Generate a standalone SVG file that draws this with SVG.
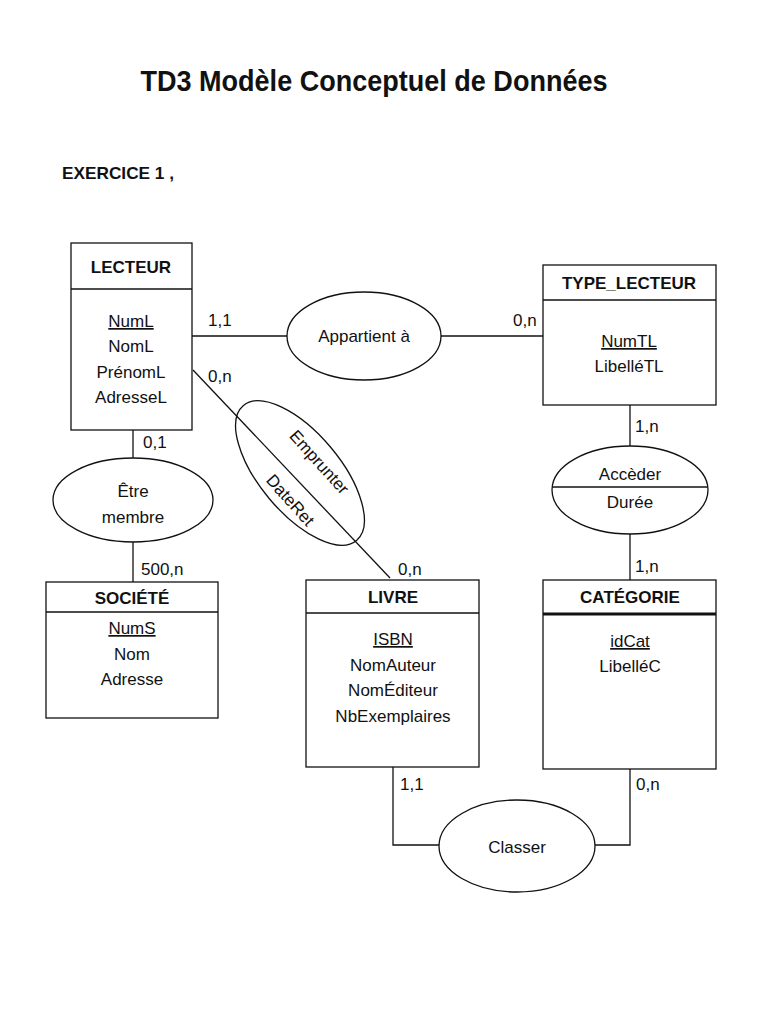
<svg xmlns="http://www.w3.org/2000/svg" width="768" height="1024" viewBox="0 0 768 1024">
<style>
text{font-family:"Liberation Sans",Arial,sans-serif;font-size:17px;fill:#111}
.b{font-weight:bold}
.m{text-anchor:middle}
rect,ellipse{fill:#fff;stroke:#111;stroke-width:1.3}
line,polyline{stroke:#111;stroke-width:1.3;fill:none}
</style>
<rect x="0" y="0" width="768" height="1024" style="fill:#fff;stroke:none"/>
<text x="374" y="91" class="b m" style="font-size:30px" textLength="467" lengthAdjust="spacingAndGlyphs">TD3 Modèle Conceptuel de Données</text>
<text x="62" y="179" class="b" textLength="112" lengthAdjust="spacingAndGlyphs">EXERCICE 1 ,</text>
<g id="connectors">
<line x1="192" y1="336" x2="287" y2="336"/>
<line x1="441" y1="336" x2="543" y2="336"/>
<line x1="193" y1="370" x2="390" y2="578"/>
<line x1="133" y1="430" x2="133" y2="458"/>
<line x1="133" y1="542" x2="133" y2="582"/>
<line x1="630" y1="405" x2="630" y2="446"/>
<line x1="630" y1="534" x2="630" y2="580"/>
<polyline points="393,767 393,845 439,845"/>
<polyline points="630,769 630,845 595,845"/>
<text x="208" y="326">1,1</text>
<text x="513" y="326">0,n</text>
<text x="208" y="382">0,n</text>
<text x="143" y="448">0,1</text>
<text x="141" y="575">500,n</text>
<text x="398" y="575">0,n</text>
<text x="635" y="432">1,n</text>
<text x="635" y="572">1,n</text>
<text x="400" y="790">1,1</text>
<text x="636" y="790">0,n</text>
</g>
<g id="lecteur">
<rect x="71" y="243" width="121" height="187"/>
<line x1="71" y1="289" x2="192" y2="289"/>
<text x="131" y="273" class="b m">LECTEUR</text>
<text x="131" y="327" class="m" text-decoration="underline">NumL</text>
<text x="131" y="352" class="m">NomL</text>
<text x="131" y="378" class="m">PrénomL</text>
<text x="131" y="403" class="m">AdresseL</text>
</g>
<g id="appartient">
<ellipse cx="364" cy="336" rx="77" ry="44"/>
<text x="364" y="342" class="m">Appartient à</text>
</g>
<g id="type_lecteur">
<rect x="543" y="265" width="173" height="140"/>
<line x1="543" y1="300" x2="716" y2="300"/>
<text x="629" y="289" class="b m">TYPE_LECTEUR</text>
<text x="629" y="347" class="m" text-decoration="underline">NumTL</text>
<text x="629" y="372" class="m">LibelléTL</text>
</g>
<g id="emprunter">
<ellipse cx="300" cy="473" rx="88" ry="40" transform="rotate(50 300 473)" style="fill:none"/>
<text x="315" y="466" class="m" transform="rotate(48 315 466)">Emprunter</text>
<text x="286" y="504" class="m" transform="rotate(48 286 504)">DateRet</text>
</g>
<g id="etre_membre">
<ellipse cx="133" cy="500" rx="80" ry="42"/>
<text x="133" y="497" class="m">Être</text>
<text x="133" y="523" class="m">membre</text>
</g>
<g id="accerder">
<ellipse cx="630" cy="490" rx="78" ry="44"/>
<line x1="552" y1="487" x2="708" y2="487"/>
<text x="630" y="480" class="m">Accèder</text>
<text x="630" y="508" class="m">Durée</text>
</g>
<g id="societe">
<rect x="46" y="582" width="172" height="136"/>
<line x1="46" y1="612" x2="218" y2="612"/>
<text x="132" y="604" class="b m">SOCIÉTÉ</text>
<text x="132" y="634" class="m" text-decoration="underline">NumS</text>
<text x="132" y="660" class="m">Nom</text>
<text x="132" y="685" class="m">Adresse</text>
</g>
<g id="livre">
<rect x="306" y="580" width="173" height="187"/>
<line x1="306" y1="613" x2="479" y2="613"/>
<text x="393" y="603" class="b m">LIVRE</text>
<text x="393" y="645" class="m" text-decoration="underline">ISBN</text>
<text x="393" y="671" class="m">NomAuteur</text>
<text x="393" y="696" class="m">NomÉditeur</text>
<text x="393" y="722" class="m">NbExemplaires</text>
</g>
<g id="categorie">
<rect x="543" y="580" width="173" height="189"/>
<line x1="543" y1="614" x2="716" y2="614" style="stroke-width:3"/>
<text x="630" y="603" class="b m">CATÉGORIE</text>
<text x="630" y="647" class="m" text-decoration="underline">idCat</text>
<text x="630" y="672" class="m">LibelléC</text>
</g>
<g id="classer">
<ellipse cx="517" cy="846" rx="78" ry="46"/>
<text x="517" y="853" class="m">Classer</text>
</g>
</svg>
